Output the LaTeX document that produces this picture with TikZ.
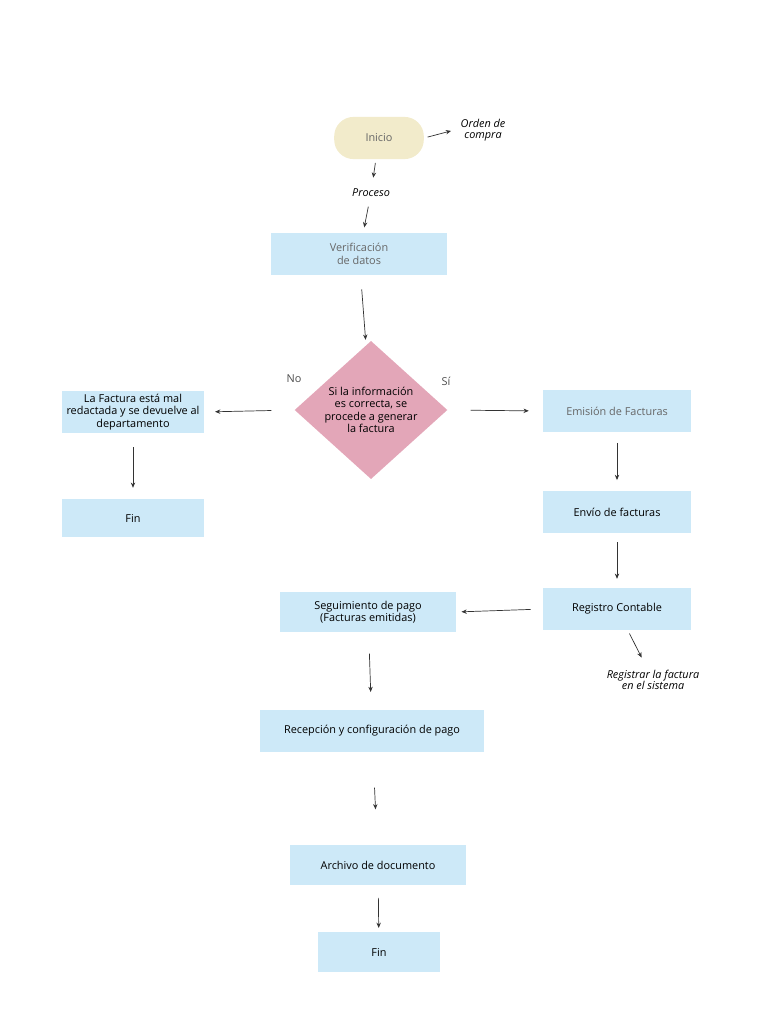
\documentclass[tikz,border=0pt]{standalone}
\usepackage{fontspec}
\setmainfont{Open Sans}
\usetikzlibrary{shapes.geometric}
\usetikzlibrary{arrows.meta}
\definecolor{BoxBlue}{HTML}{CDE9F8}
\definecolor{StartSand}{HTML}{F2EBCB}
\definecolor{DecPink}{HTML}{E3A6B8}
\tikzstyle{BasicBox} = [rectangle, inner sep = 1pt, align = center, font=\fontsize{6.2}{7}\selectfont]
\tikzstyle{Step}     = [BasicBox, fill=BoxBlue, minimum width = 84pt, minimum height = 24pt]
\tikzstyle{GreyStep} = [Step, text=black!60]
\tikzstyle{Note}     = [font=\fontsize{6.2}{6.5}\selectfont\itshape, align = center]
\tikzstyle{Flow}     = [draw=black!80, -{Stealth[length=3pt,width=2.5pt]}]

\begin{document}
\begin{tikzpicture}[x=0.02cm, y=-0.02cm]
\useasboundingbox (0,0) rectangle (768,1024);

\node (inicio) [BasicBox, fill=StartSand, text=black!60, rounded corners=11pt,
                minimum width = 51pt, minimum height = 24pt] at (379,138) {Inicio};
\node (orden) [Note] at (483,130) {Orden de\\compra};
\node (proceso) [Note] at (371,193) {Proceso};
\node (verif) [GreyStep, minimum width = 100pt] at (359,254) {Verificación\\de datos};
\node (decision) [diamond, fill=DecPink, minimum width = 87pt, minimum height = 74pt,
                  inner sep = 0pt, align = center, font=\fontsize{6.2}{7}\selectfont]
                 at (371,410) {Si la información\\es correcta, se\\procede a generar\\la factura};
\node (no) [BasicBox, text=black!70] at (294,379) {No};
\node (si) [BasicBox, text=black!70] at (446,381) {Sí};

%% left branch
\node (malred) [Step, minimum width = 81pt] at (133,412) {La Factura está mal\\redactada y se devuelve al\\departamento};
\node (finA) [Step, minimum width = 81pt, minimum height = 22pt] at (133,518) {Fin};

%% right branch
\node (emision) [GreyStep] at (617,411) {Emisión de Facturas};
\node (envio) [Step] at (617,512) {Envío de facturas};
\node (registro) [Step] at (617,609) {Registro Contable};
\node (registrar) [Note] at (653,680) {Registrar la factura\\en el sistema};

%% bottom column
\node (seguim) [Step, minimum width = 100pt, minimum height = 23pt] at (368,612) {Seguimiento de pago\\(Facturas emitidas)};
\node (recep) [Step, minimum width = 128pt] at (372,731) {Recepción y configuración de pago};
\node (archivo) [Step, minimum width = 100pt, minimum height = 23pt] at (378,865) {Archivo de documento};
\node (finB) [Step, minimum width = 70pt, minimum height = 23pt] at (379,952) {Fin};

\draw [Flow, shorten <=2pt, shorten >=2pt] (inicio.east) -- (orden.west);
\draw [Flow, shorten <=2pt, shorten >=3pt] (inicio) -- (proceso);
\draw [Flow, shorten <=2pt, shorten >=3pt] (proceso) -- (verif);
\draw [Flow, shorten <=8pt, shorten >=3pt] (verif) -- (decision);
\draw [Flow, shorten <=13pt, shorten >=6pt] (decision.west) -- (malred.east);
\draw [Flow, shorten <=13pt, shorten >=8pt] (decision.east) -- (emision.west);
\draw [Flow, shorten <=8pt, shorten >=6pt] (malred) -- (finA);
\draw [Flow, shorten <=6pt, shorten >=6pt] (emision) -- (envio);
\draw [Flow, shorten <=5pt, shorten >=5pt] (envio) -- (registro);
\draw [Flow, shorten <=7pt, shorten >=3pt] (registro.west) -- (seguim.east);
\draw [Flow, shorten <=2pt, shorten >=4pt] (registro) -- (registrar);
\draw [Flow, shorten <=12pt, shorten >=10pt] (seguim) -- (recep);
\draw [Flow, shorten <=20pt, shorten >=20pt] (recep) -- (archivo);
\draw [Flow, shorten <=7pt, shorten >=2pt] (archivo) -- (finB);
\end{tikzpicture}
\end{document}
